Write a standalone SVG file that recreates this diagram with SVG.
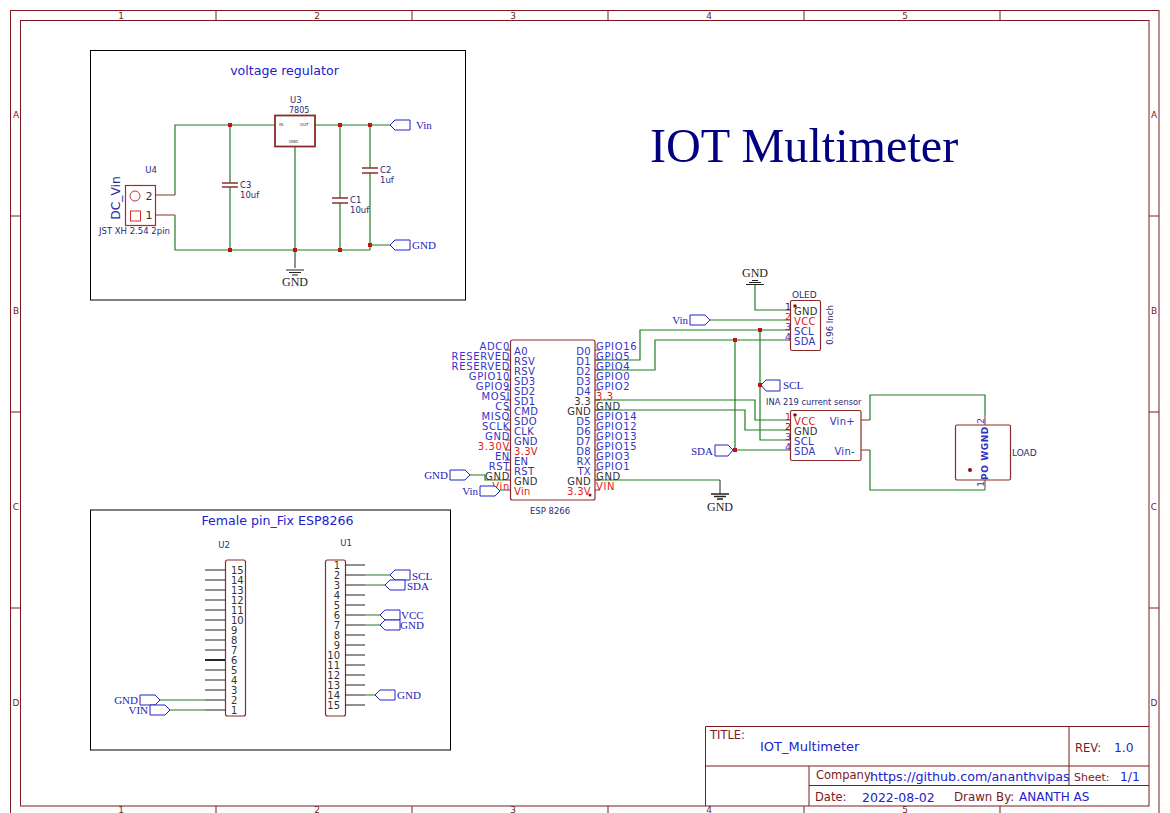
<svg xmlns="http://www.w3.org/2000/svg" width="1170" height="813" viewBox="0 0 1170 813">
<style>
text{font-family:"DejaVu Sans","Liberation Sans",sans-serif;font-size:9.5px;fill:#2222cc;dominant-baseline:central}
.fr{fill:none;stroke:#7a1a1f;stroke-width:1}
.fl{fill:#7a1a1f;font-size:9px}
.b{fill:none;stroke:#000;stroke-width:1}
.w{fill:none;stroke:#1f7f1f;stroke-width:1.2}
.p{fill:none;stroke:#8a3030;stroke-width:1}
.k{fill:none;stroke:#222;stroke-width:1}
.body{fill:none;stroke:#8a2a2a;stroke-width:1.2}
.cap{fill:none;stroke:#8a3030;stroke-width:1.4}
.j{fill:#c01515;stroke:none}
.flag{fill:#fff;stroke:#2222cc;stroke-width:1}
.nl{font-family:"Liberation Serif",serif;font-size:11px;fill:#2222bb}
.gl{font-family:"Liberation Serif",serif;font-size:12px;fill:#222}
.n{font-size:12.300px;fill:#2a2a9a}
.pl{font-size:11px;fill:#333}
.pr{font-size:10px;letter-spacing:.65px;fill:#3333cc}
.pk{font-size:10px;fill:#333}
.pg{font-size:10px;letter-spacing:.65px;fill:#333}
.prd{font-size:10px;letter-spacing:.65px;fill:#e02020}
.num{font-size:9.500px;letter-spacing:0}
.in{font-size:10px;letter-spacing:.3px;fill:#3333bb}
.ink{font-size:10px;letter-spacing:.3px;fill:#333}
.inr{font-size:10px;letter-spacing:.3px;fill:#e02020}
.e{text-anchor:end}
.m{text-anchor:middle}
.tt{fill:#7a1a1f;font-size:11.500px}
.tv{fill:#2222cc;font-size:12.700px}
.dot{fill:#8a1010}
.sm{font-size:4px;fill:#333}
.cl{font-size:8.500px;fill:#2a2a7a}
.ttl{font-size:12.600px}
</style>
<g id="frame">
<rect class="fr" x="10.500" y="10.500" width="1148.500" height="806"/>
<rect class="fr" x="20.500" y="20.500" width="1128.500" height="785.500"/>
<path class="fr" d="M216 10.500V20.500M412 10.500V20.500M608 10.500V20.500M804 10.500V20.500M1000 10.500V20.500M216 806V816M412 806V816M608 806V816M804 806V816M1000 806V816M10.500 216H20.500M10.500 412H20.500M10.500 608H20.500M1149 216H1159M1149 412H1159M1149 608H1159"/>
<text class="fl m" x="121" y="16">1</text><text class="fl m" x="317" y="16">2</text><text class="fl m" x="513" y="16">3</text><text class="fl m" x="709" y="16">4</text><text class="fl m" x="905" y="16">5</text>
<text class="fl m" x="121" y="809.500">1</text><text class="fl m" x="317" y="809.500">2</text><text class="fl m" x="513" y="809.500">3</text><text class="fl m" x="709" y="809.500">4</text><text class="fl m" x="905" y="809.500">5</text>
<text class="fl m" x="16" y="115">A</text><text class="fl m" x="16" y="311">B</text><text class="fl m" x="16" y="507">C</text><text class="fl m" x="16" y="703">D</text>
<text class="fl m" x="1154" y="115">A</text><text class="fl m" x="1154" y="311">B</text><text class="fl m" x="1154" y="507">C</text><text class="fl m" x="1154" y="703">D</text>
</g>
<g id="title-block">
<path class="fr" d="M705.500 806V726.500H1149M705.500 766H1149M1069 726.500V785.500M809 766V806M809 785.500H1149"/>
<text class="tt" x="710" y="735">TITLE:</text>
<text class="tv" x="760" y="746" style="font-size:13px">IOT_Multimeter</text>
<text class="tt" x="1075" y="748">REV:</text>
<text class="tv" x="1114" y="748" style="font-size:12.300px">1.0</text>
<text class="tt" x="816" y="775">Company:</text>
<text class="tv" x="870" y="776">https://github.com/ananthvipas</text>
<text class="tt" x="1074" y="777" style="font-size:11px">Sheet:</text>
<text class="tv" x="1120" y="777" style="font-size:12.300px">1/1</text>
<text class="tt" x="815" y="797">Date:</text>
<text class="tv" x="862" y="797" style="font-size:12.500px">2022-08-02</text>
<text class="tt" x="954" y="797" style="font-size:11.800px">Drawn By:</text>
<text class="tv" x="1019" y="797" style="font-size:12px">ANANTH AS</text>
</g>
<text id="heading" x="650" y="145" style="font-family:'Liberation Serif',serif;font-size:48.200px;fill:#000080">IOT Multimeter</text>
<rect id="box-regulator" class="b" x="90.500" y="50.500" width="375" height="249.500"/>
<text x="284.500" y="70.500" class="m ttl">voltage regulator</text>
<rect id="box-female" class="b" x="90.500" y="510" width="360" height="240"/>
<text x="277.500" y="520" class="m ttl">Female pin_Fix ESP8266</text>

<g id="connectors">
<path class="w" d="M175 195V125H275M175 215V250H370M230 125V183M230 187V250M295 146V250M315 125H390M340 125V198M340 203V250M370 125V168M370 173V250M370 245H390"/>
<path class="k" d="M295 250V268"/>
<path class="w" d="M755 285V310H785M710 320H785M595 360H640V330H785M595 370H655V340H785M595 400H755V420H785M595 410H745V430H785M760 330V440H785M735 340V450M733 450H785M595 480H720"/>
<path class="k" d="M720 480V494"/>
<path class="w" d="M870 420V395H985V415M870 450V490H985M470 475H485V480H505M500 490H505"/>
<path class="w" d="M160 700H205M170 710H205M365 575H390M365 585H385M365 615H380M365 625H380M365 695H375"/>
</g>
<g id="junctions">
<path class="j" d="M228 123h4v4h-4zM228 248h4v4h-4zM293 248h4v4h-4zM338 123h4v4h-4zM338 248h4v4h-4zM368 123h4v4h-4zM368 243h4v4h-4zM758 328h4v4h-4zM733 338h4v4h-4zM758 383h4v4h-4zM733 448h4v4h-4z"/>
</g>
<g id="U4">
<rect class="body" x="125.500" y="185.500" width="30" height="40" style="stroke:#c02020"/>
<circle cx="135" cy="196" r="5" fill="none" stroke="#d03030"/>
<rect x="130.500" y="211" width="10" height="10" fill="none" stroke="#d03030"/>
<path class="p" d="M155 195H175M155 215H175"/>
<text class="pl m" x="149" y="196">2</text><text class="pl m" x="149" y="215">1</text>
<text class="cl m" x="151" y="170">U4</text>
<text class="n m" transform="translate(116 198) rotate(-90)" x="0" y="0">DC_Vin</text>
<text class="cl" x="99" y="231">JST XH 2.54 2pin</text>
</g>
<g id="U3">
<rect class="body" x="275" y="115.500" width="40" height="31" style="stroke-width:1.800"/>
<text class="cl" x="290" y="100">U3</text><text class="cl" x="289" y="110" style="font-size:8px">7805</text>
<text class="sm" x="279" y="124">IN</text><text class="sm" x="300" y="124">OUT</text><text class="sm" x="289" y="141">GND</text>
</g>
<g id="C3"><path class="cap" d="M222 183H238M222 187H238"/><text class="cl" x="240" y="185">C3</text><text class="cl" x="240" y="195">10uf</text></g>
<g id="C1"><path class="cap" d="M332 198H348M332 203H348"/><text class="cl" x="350" y="200">C1</text><text class="cl" x="350" y="210">10uf</text></g>
<g id="C2"><path class="cap" d="M362 168H378M362 173H378"/><text class="cl" x="380" y="170">C2</text><text class="cl" x="380" y="180">1uf</text></g>
<g id="flag-vin-reg"><path class="flag" d="M390 125l5-5h15v10h-15z"/><text class="nl" x="416" y="125">Vin</text></g>
<g id="flag-gnd-reg"><path class="flag" d="M390 245l5-5h15v10h-15z"/><text class="nl" x="412" y="245">GND</text></g>
<g id="gnd-reg"><path class="k" d="M286 270H304M289 272.500H301M292 275H298"/><text class="gl m" x="295" y="282">GND</text></g>

<g id="ESP8266">
<rect class="body" x="510.500" y="340" width="84.500" height="160" rx="2"/>
<path class="p" d="M505 350H510M505 360H510M505 370H510M505 380H510M505 390H510M505 400H510M505 410H510M505 420H510M505 430H510M505 440H510M505 450H510M505 460H510M505 470H510M505 480H510M505 490H510M595 350H600M595 360H600M595 370H600M595 380H600M595 390H600M595 400H600M595 410H600M595 420H600M595 430H600M595 440H600M595 450H600M595 460H600M595 470H600M595 480H600M595 490H600"/>
<circle class="dot" cx="590" cy="495" r="1.500"/>
<text class="pr e" x="510" y="346">ADC0</text><text class="pr e" x="510" y="356">RESERVED</text><text class="pr e" x="510" y="366">RESERVED</text><text class="pr e" x="510" y="376">GPIO10</text><text class="pr e" x="510" y="386">GPIO9</text><text class="pr e" x="510" y="396">MOSI</text><text class="pr e" x="510" y="406">CS</text><text class="pr e" x="510" y="416">MISO</text><text class="pr e" x="510" y="426">SCLK</text><text class="pr e" x="510" y="436">GND</text><text class="prd e" x="510" y="446">3.30V</text><text class="pr e" x="510" y="456">EN</text><text class="pr e" x="510" y="466">RST</text><text class="pg e" x="510" y="476">GND</text><text class="prd e" x="510" y="486">Vin</text>
<text class="in" x="514" y="351">A0</text><text class="in" x="514" y="361">RSV</text><text class="in" x="514" y="371">RSV</text><text class="in" x="514" y="381">SD3</text><text class="in" x="514" y="391">SD2</text><text class="in" x="514" y="401">SD1</text><text class="in" x="514" y="411">CMD</text><text class="in" x="514" y="421">SDO</text><text class="in" x="514" y="431">CLK</text><text class="in" x="514" y="441">GND</text><text class="inr" x="514" y="451">3.3V</text><text class="in" x="514" y="461">EN</text><text class="in" x="514" y="471">RST</text><text class="ink" x="514" y="481">GND</text><text class="inr" x="514" y="491">Vin</text>
<text class="in e" x="591" y="351">D0</text><text class="in e" x="591" y="361">D1</text><text class="in e" x="591" y="371">D2</text><text class="in e" x="591" y="381">D3</text><text class="in e" x="591" y="391">D4</text><text class="ink e" x="591" y="401">3.3</text><text class="ink e" x="591" y="411">GND</text><text class="in e" x="591" y="421">D5</text><text class="in e" x="591" y="431">D6</text><text class="in e" x="591" y="441">D7</text><text class="in e" x="591" y="451">D8</text><text class="in e" x="591" y="461">RX</text><text class="in e" x="591" y="471">TX</text><text class="ink e" x="591" y="481">GND</text><text class="inr e" x="591" y="491">3.3V</text>
<text class="pr" x="596" y="346">GPIO16</text><text class="pr" x="596" y="356">GPIO5</text><text class="pr" x="596" y="366">GPIO4</text><text class="pr" x="596" y="376">GPIO0</text><text class="pr" x="596" y="386">GPIO2</text><text class="prd" x="596" y="396">3.3</text><text class="pg" x="596" y="406">GND</text><text class="pr" x="596" y="416">GPIO14</text><text class="pr" x="596" y="426">GPIO12</text><text class="pr" x="596" y="436">GPIO13</text><text class="pr" x="596" y="446">GPIO15</text><text class="pr" x="596" y="456">GPIO3</text><text class="pr" x="596" y="466">GPIO1</text><text class="pg" x="596" y="476">GND</text><text class="prd" x="596" y="486">VIN</text>
<text class="cl m" x="550" y="511">ESP 8266</text>
</g>
<g id="flag-gnd-esp"><path class="flag" d="M470 475l-5-5h-15v10h15z"/><text class="nl e" x="448" y="475">GND</text></g>
<g id="flag-vin-esp"><path class="flag" d="M500 491l-5-5h-15v10h15z"/><text class="nl e" x="478" y="491">Vin</text></g>

<g id="OLED">
<rect class="body" x="790.500" y="300.500" width="30" height="50" rx="1.500"/>
<path class="p" d="M785 310H790M785 320H790M785 330H790M785 340H790"/>
<circle class="dot" cx="795" cy="306" r="1.800"/>
<text class="cl" x="792" y="295" style="font-size:9px">OLED</text>
<text class="pk num" x="785" y="306">1</text><text class="prd num" x="785" y="316">2</text><text class="pr num" x="785" y="326">3</text><text class="pr num" x="785" y="336">4</text>
<text class="ink" x="794" y="311">GND</text><text class="inr" x="794" y="321">VCC</text><text class="in" x="794" y="331">SCL</text><text class="in" x="794" y="341">SDA</text>
<text class="cl m" transform="translate(830 325) rotate(-90)" x="0" y="0">0.96 Inch</text>
</g>
<g id="INA219">
<rect class="body" x="790.500" y="410.500" width="70.500" height="50" rx="1.500"/>
<path class="p" d="M785 420H790M785 430H790M785 440H790M785 450H790M861 420H870M861 450H870"/>
<circle class="dot" cx="795" cy="415" r="1.800"/>
<text class="cl" x="766" y="402" style="font-size:8.300px">INA 219 current sensor</text>
<text class="prd num" x="785" y="416">1</text><text class="pk num" x="785" y="426">2</text><text class="pr num" x="785" y="436">3</text><text class="pr num" x="785" y="446">4</text>
<text class="inr" x="794" y="421">VCC</text><text class="ink" x="794" y="431">GND</text><text class="in" x="794" y="441">SCL</text><text class="in" x="794" y="451">SDA</text>
<text class="in e" x="855" y="421">Vin+</text><text class="in e" x="855" y="451">Vin-</text>
</g>
<g id="LOAD">
<rect class="body" x="955.500" y="425" width="55" height="55" rx="1.500"/>
<path class="p" d="M985 415V425M985 480V490"/>
<circle class="dot" cx="970" cy="470" r="2"/>
<text class="pr m num" transform="translate(980 421) rotate(-90)" x="0" y="0">2</text>
<text class="pr m num" transform="translate(980 484) rotate(-90)" x="0" y="0">1</text>
<text class="in m" transform="translate(985 453) rotate(-90)" x="0" y="0" style="font-size:9px;letter-spacing:.6px;font-weight:bold">PO WGND</text>
<text class="cl" x="1012" y="453" style="font-size:9px">LOAD</text>
</g>
<g id="gnd-oled"><path class="k" d="M746 284.500H764M749 282.500H761M752 280.500H758"/><text class="gl m" x="755" y="272.500">GND</text></g>
<g id="flag-vin-oled"><path class="flag" d="M710 320l-5-5h-15v10h15z"/><text class="nl e" x="688" y="320">Vin</text></g>
<g id="flag-scl"><path class="flag" d="M761 385l5-5h14v11h-14z"/><text class="nl" x="783" y="385">SCL</text></g>
<g id="flag-sda"><path class="flag" d="M733 450l-5-5h-13v11h13z"/><text class="nl e" x="713" y="451">SDA</text></g>
<g id="gnd-esp"><path class="k" d="M711 494H729M714 496.500H726M717 499H723" style="stroke-width:1.500"/><text class="gl m" x="720" y="507">GND</text></g>

<g id="U2">
<rect class="body" x="225.500" y="560" width="20" height="156" rx="2"/>
<path class="k" d="M205 570H225M205 580H225M205 590H225M205 600H225M205 610H225M205 620H225M205 630H225M205 640H225M205 650H225M205 670H225M205 680H225M205 690H225M205 700H225M205 710H225"/>
<path d="M205 660H225" stroke="#111" stroke-width="1.800" fill="none"/>
<text class="cl m" x="224" y="545">U2</text>
<text class="pk" x="231" y="570">15</text><text class="pk" x="231" y="580">14</text><text class="pk" x="231" y="590">13</text><text class="pk" x="231" y="600">12</text><text class="pk" x="231" y="610">11</text><text class="pk" x="231" y="620">10</text><text class="pk" x="231" y="630">9</text><text class="pk" x="231" y="640">8</text><text class="pk" x="231" y="650">7</text><text class="pk" x="231" y="660">6</text><text class="pk" x="231" y="670">5</text><text class="pk" x="231" y="680">4</text><text class="pk" x="231" y="690">3</text><text class="pk" x="231" y="700">2</text><text class="pk" x="231" y="710">1</text>
</g>
<g id="flag-gnd-u2"><path class="flag" d="M160 700l-5-5h-15v10h15z"/><text class="nl e" x="138" y="700">GND</text></g>
<g id="flag-vin-u2"><path class="flag" d="M170 710l-5-5h-15v10h15z"/><text class="nl e" x="148" y="710">VIN</text></g>
<g id="U1">
<rect class="body" x="325.500" y="560" width="20" height="156" rx="2"/>
<path class="k" d="M345 565H365M345 575H365M345 585H365M345 595H365M345 605H365M345 615H365M345 625H365M345 635H365M345 645H365M345 655H365M345 665H365M345 675H365M345 685H365M345 695H365M345 705H365"/>
<text class="cl m" x="346" y="543">U1</text>
<text class="pk e" x="340" y="565">1</text><text class="pk e" x="340" y="575">2</text><text class="pk e" x="340" y="585">3</text><text class="pk e" x="340" y="595">4</text><text class="pk e" x="340" y="605">5</text><text class="pk e" x="340" y="615">6</text><text class="pk e" x="340" y="625">7</text><text class="pk e" x="340" y="635">8</text><text class="pk e" x="340" y="645">9</text><text class="pk e" x="340" y="655">10</text><text class="pk e" x="340" y="665">11</text><text class="pk e" x="340" y="675">12</text><text class="pk e" x="340" y="685">13</text><text class="pk e" x="340" y="695">14</text><text class="pk e" x="340" y="705">15</text>
</g>
<g id="flag-scl-u1"><path class="flag" d="M390 575l5-5h15v10h-15z"/><text class="nl" x="412" y="576">SCL</text></g>
<g id="flag-sda-u1"><path class="flag" d="M385 585l5-5h15v10h-15z"/><text class="nl" x="407" y="586">SDA</text></g>
<g id="flag-vcc-u1"><path class="flag" d="M380 615l5-5h15v10h-15z"/><text class="nl" x="401" y="615">VCC</text></g>
<g id="flag-gnd-u1"><path class="flag" d="M380 625l5-5h15v10h-15z"/><text class="nl" x="400" y="625">GND</text></g>
<g id="flag-gnd2-u1"><path class="flag" d="M375 695l5-5h15v10h-15z"/><text class="nl" x="397" y="695">GND</text></g>
</svg>
